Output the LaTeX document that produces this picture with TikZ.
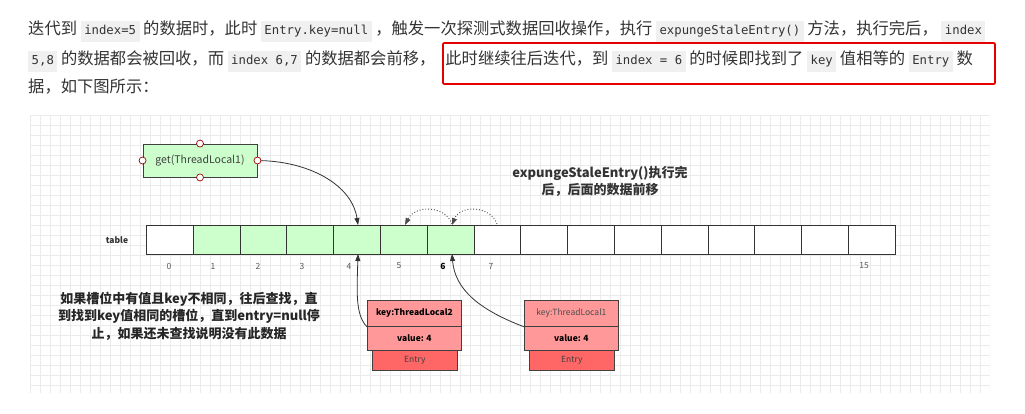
\documentclass[tikz,border=0pt]{standalone}
\usepackage{fontspec}
\setmainfont{Noto Sans CJK SC}
\setsansfont{Noto Sans CJK SC}
\setmonofont{DejaVu Sans Mono}
\usetikzlibrary{arrows.meta}
\definecolor{codebg}{HTML}{F0F0F0}
\definecolor{txt}{HTML}{333333}
\definecolor{gfill}{HTML}{CCFFCC}
\definecolor{pfill}{HTML}{FF9999}
\definecolor{rfill}{HTML}{FF6666}
\definecolor{gridc}{HTML}{EBEBEB}
\newcommand{\cd}[1]{{\setlength{\fboxsep}{3.5pt}\colorbox{codebg}{\fontsize{12.3}{14}\ttfamily\strut #1}}}
\begin{document}
\begin{tikzpicture}[x=1pt,y=-1pt,
  para/.style={anchor=base west,inner sep=0,text=txt,font=\fontsize{16.3}{18}\selectfont},
  cell/.style={draw=black!80,line width=0.8pt,minimum width=46.8pt,minimum height=29pt,inner sep=0,anchor=north west},
  idx/.style={font=\fontsize{8.5}{9}\selectfont,text=black!65},
  port/.style={circle,draw=red!60!black,fill=white,inner sep=0,minimum size=7pt,line width=0.7pt},
  arr/.style={-{Triangle[length=7pt,width=5pt]},line width=0.8pt,black!80},
  dotarr/.style={-{Triangle[length=7pt,width=5pt]},line width=0.9pt,black!70,dotted},
  ebox/.style={draw=black!75,line width=0.8pt,fill=pfill,minimum width=94pt,inner sep=0,anchor=north west,font=\fontsize{8.5}{9}\selectfont}
]
\useasboundingbox (0,0) rectangle (1025,413);
\fill[white] (0,0) rectangle (1025,413);
% paragraph
\node[para] (l1) at (28,34) {迭代到 \cd{index=5} 的数据时，此时 \cd{Entry.key=null} ，触发一次探测式数据回收操作，执行 \cd{expungeStaleEntry()} 方法，执行完后， \cd{index}};
\node[para] (l2) at (28,64) {\cd{5,8} 的数据都会被回收，而 \cd{index 6,7} 的数据都会前移，\hspace{10pt}此时继续往后迭代，到 \cd{index = 6} 的时候即找到了 \cd{key} 值相等的 \cd{Entry} 数};
\node[para] (l3) at (28,92) {据，如下图所示：};
\draw[red!90!black,line width=1.6pt,rounded corners=1pt] (443,43) rectangle (995,84);
% grid
\begin{scope}
\clip (30,115) rectangle (990,393);
\foreach \x in {30,40,...,990} \draw[gridc,line width=0.4pt] (\x,115) -- (\x,393);
\foreach \y in {115,125,...,395} \draw[gridc,line width=0.4pt] (30,\y) -- (990,\y);
\end{scope}
% get box
\node[draw=black!75,line width=0.9pt,fill=gfill,minimum width=114pt,minimum height=33pt,inner sep=0,font=\fontsize{10.5}{11}\selectfont,text=black!75] (get) at (200,160.5) {get(ThreadLocal1)};
\node[port] (pn) at (get.north) {};
\node[port] (ps) at (get.south) {};
\node[port] (pw) at (get.west) {};
\node[port] (pe) at (get.east) {};
% table
\node[font=\bfseries\fontsize{8.5}{9}\selectfont,text=black!80] (tl) at (117,240) {table};
\foreach \i in {0,...,15}{
  \pgfmathsetmacro\xx{146+46.8*\i}
  \ifnum\i>0 \ifnum\i<7 \def\fc{gfill}\else\def\fc{white}\fi\else\def\fc{white}\fi
  \node[cell,fill=\fc] (c\i) at (\xx,225) {};
}
\foreach \i/\x in {0/169,1/213,2/258,3/302,4/349,5/399,7/491,15/864}
  \node[idx] (n\i) at (\x,266) {\i};
\node[idx,font=\bfseries\fontsize{8.5}{9}\selectfont,text=black] (n6) at (443,266) {6};
% get arrow
\coordinate (t4) at (358,225);
\draw[arr] (pe) .. controls (310,162) and (352,185) .. (t4);
% dotted arrows
\coordinate (d7) at (497,224);
\coordinate (d6) at (452,225);
\coordinate (d6s) at (452,224);
\coordinate (d5) at (405,225);
\draw[dotarr] (d7) .. controls (490,205) and (460,205) .. (d6);
\draw[dotarr] (d6s) .. controls (445,205) and (415,205) .. (d5);
% caption
\node[font=\bfseries\fontsize{13}{17}\selectfont,text=black!80,align=center] (cap) at (600,181) {expungeStaleEntry()执行完\\后，后面的数据前移};
% left note
\node[font=\bfseries\fontsize{13}{17.5}\selectfont,text=black!85,align=center] (note) at (189,316) {如果槽位中有值且key不相同，往后查找，直\\到找到key值相同的槽位，直到entry=null停\\止，如果还未查找说明没有此数据};
% entries
\foreach \n/\x in {a/367, b/524}{
  \node[draw=black!75,line width=0.8pt,fill=rfill,minimum width=85pt,minimum height=21pt,inner sep=0,anchor=north west,font=\fontsize{8.5}{9}\selectfont,text=black!75] (\n e) at (\x+5,349) {Entry};
  \node[ebox,minimum height=24pt,font=\bfseries\fontsize{8.5}{9}\selectfont] (\n v) at (\x,326) {value: 4};
}
\node[ebox,minimum height=26pt,font=\bfseries\fontsize{8.5}{9}\selectfont] (ak) at (367,300) {key:ThreadLocal2};
\node[ebox,minimum height=26pt,text=black!70] (bk) at (524,300) {key:ThreadLocal1};
\coordinate (b4) at (358,254);
\coordinate (b6) at (452,254);
\draw[arr] (ak.south west) .. controls (355,315) and (357,290) .. (b4);
\draw[arr] (bk.south west) .. controls (480,310) and (455,290) .. (b6);
\end{tikzpicture}
\end{document}
